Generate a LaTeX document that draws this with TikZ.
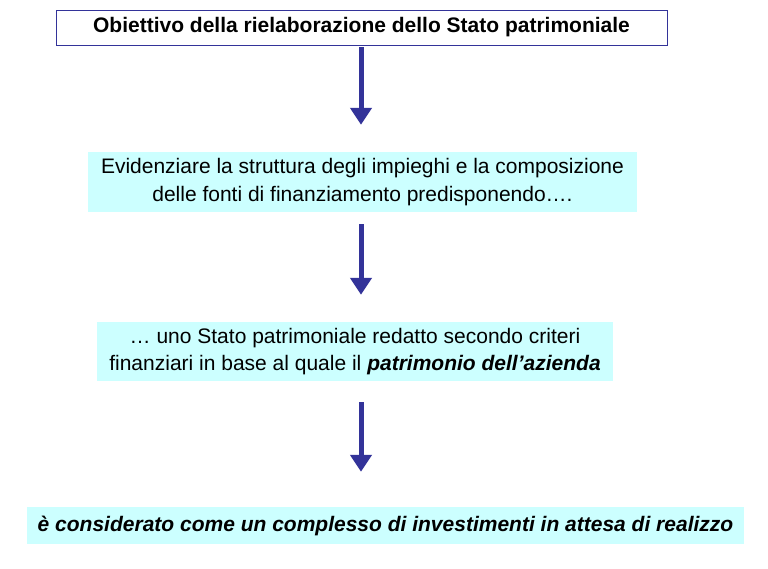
\documentclass[tikz,border=0pt]{standalone}
\usepackage{fontspec}
\setmainfont{Liberation Sans}
\usetikzlibrary{arrows.meta}
\definecolor{arrblue}{HTML}{333399}
\definecolor{boxcyan}{HTML}{CCFFFF}
\begin{document}
\begin{tikzpicture}[x=1pt,y=-1pt,
  txt/.style={font=\fontsize{21}{27.5}\selectfont, align=center, inner sep=0pt},
  titlebox/.style={txt, draw=arrblue, line width=0.8pt, fill=white},
  cyanbox/.style={txt, fill=boxcyan},
  arr/.style={draw=arrblue, line width=5pt, -{Triangle[width=21pt,length=17pt]}}]
\useasboundingbox[fill=white] (0,0) rectangle (768,568);
\node[titlebox, minimum width=611pt, minimum height=35pt] (b1) at (361.5,27.5)
  {\textbf{Obiettivo della rielaborazione dello Stato patrimoniale}};
\node[cyanbox, minimum width=549pt, minimum height=60pt] (b2) at (362.5,182)
  {Evidenziare la struttura degli impieghi e la composizione\\delle fonti di finanziamento predisponendo….};
\node[cyanbox, minimum width=516pt, minimum height=59pt] (b3) at (355,351.5)
  {… uno Stato patrimoniale redatto secondo criteri\\finanziari in base al quale il \textbf{\textit{patrimonio dell’azienda}}};
\node[cyanbox, minimum width=717pt, minimum height=37pt] (b4) at (385.5,525.5)
  {\textbf{\textit{è considerato come un complesso di investimenti in attesa di realizzo}}};
\coordinate (ax) at (361,0);
\draw[arr, shorten <=2pt, shorten >=27pt] (b1.south -| ax) -- (b2.north -| ax);
\draw[arr, shorten <=12pt, shorten >=27pt] (b2.south -| ax) -- (b3.north -| ax);
\draw[arr, shorten <=21pt, shorten >=35pt] (b3.south -| ax) -- (b4.north -| ax);
\end{tikzpicture}
\end{document}
